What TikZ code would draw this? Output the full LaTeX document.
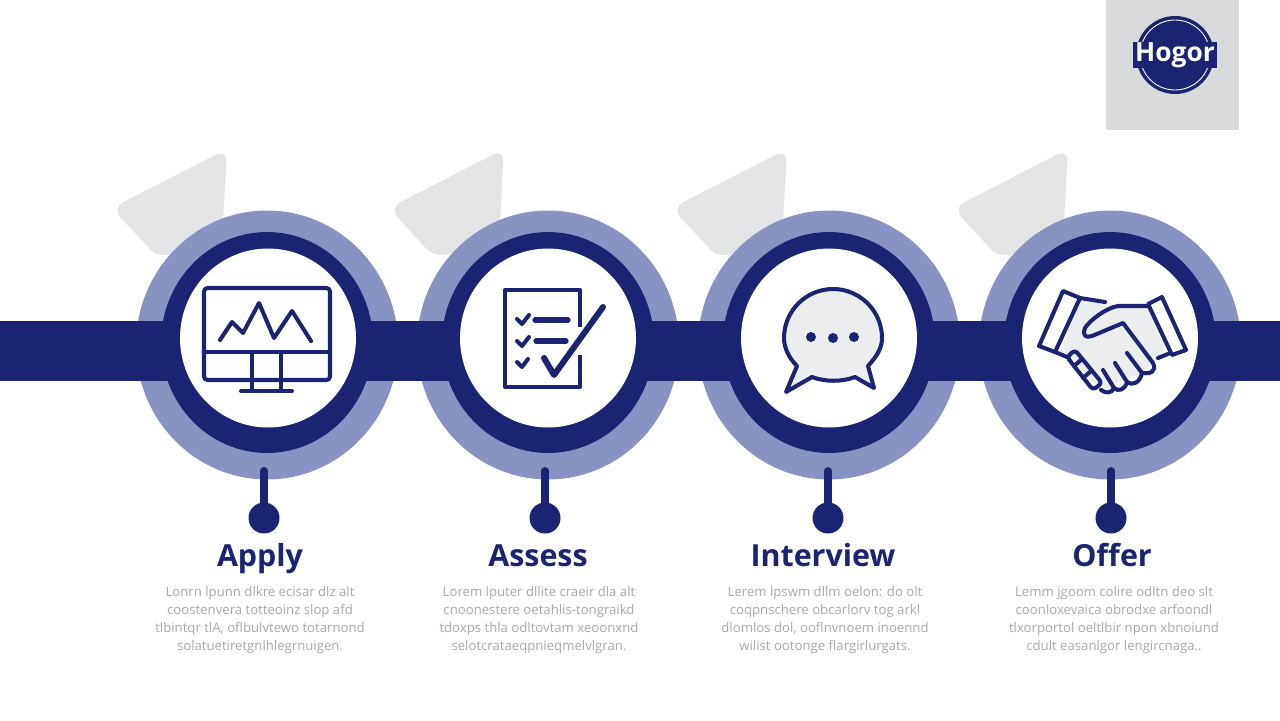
\documentclass[tikz,border=0pt]{standalone}
\usepackage{fontspec}
\setmainfont{Open Sans}
\usepackage{tikz}
\usetikzlibrary{shapes,arrows,positioning}
\definecolor{navy}{HTML}{1A2472}
\definecolor{ringblue}{HTML}{8893C4}
\definecolor{shadegray}{HTML}{E3E4E5}
\definecolor{logogray}{HTML}{D9DADC}
\definecolor{iconfill}{HTML}{ECEDEF}
\definecolor{bodygray}{HTML}{A9A9AD}
\tikzstyle{ring} = [ellipse, fill=ringblue, inner sep = 0pt, minimum width = 5.24cm, minimum height = 5.38cm]
\tikzstyle{dark} = [ellipse, fill=navy, inner sep = 0pt, minimum width = 4.24cm, minimum height = 4.42cm]
\tikzstyle{face} = [ellipse, fill=white, inner sep = 0pt, minimum width = 3.52cm, minimum height = 3.58cm]
\tikzstyle{dot} = [circle, fill=navy, inner sep = 0pt, minimum size = 0.62cm]
\tikzstyle{pin} = [draw=navy, line width = 4.5pt, line cap=round]
\tikzstyle{shade} = [fill=shadegray, rounded corners = 7pt]
\tikzstyle{icon} = [draw=navy, line width = 2.3pt, line join=round, line cap=round]
\tikzstyle{title} = [text=navy, anchor=base, font=\fontsize{17.3}{20}\selectfont\bfseries]
\tikzstyle{body} = [text=bodygray, align=center, font=\fontsize{7.5}{10.4}\selectfont]
\begin{document}
\begin{tikzpicture}[x=0.02cm, y=-0.02cm]
				\useasboundingbox (0,0) rectangle (1280,720);
				\fill [white] (0,0) rectangle (1280,720);

				% grey shapes behind the rings
				\path [shade] (227,149) -- (112,208) -- (158,258) -- (222,240) -- cycle;
				\path [shade] (504,149) -- (389,208) -- (435,258) -- (499,240) -- cycle;
				\path [shade] (787,149) -- (672,208) -- (718,258) -- (782,240) -- cycle;
				\path [shade] (1068,149) -- (953,208) -- (999,258) -- (1063,240) -- cycle;

				\node [ring] (ring1) at (267,345) {};
				\node [ring] (ring2) at (548,345) {};
				\node [ring] (ring3) at (829,345) {};
				\node [ring] (ring4) at (1110,345) {};

				\fill [navy] (0,321) rectangle (1280,381);

				\node [dark] (dark1) at (267,342.5) {};
				\node [dark] (dark2) at (548,342.5) {};
				\node [dark] (dark3) at (829,342.5) {};
				\node [dark] (dark4) at (1110,342.5) {};

				\node [face] (face1) at (268,338) {};
				\node [face] (face2) at (548,338) {};
				\node [face] (face3) at (829,338) {};
				\node [face] (face4) at (1110,338) {};

				% monitor
				\draw [icon, rounded corners = 2pt] (204,288) rectangle (330,380);
				\draw [icon] (204,352) -- (330,352);
				\draw [icon] (252,352) -- (252,391);
				\draw [icon] (281,352) -- (281,391);
				\draw [icon] (241,391) -- (292,391);
				\draw [icon] (220,340) -- (232,322) -- (243,333) -- (259,303) -- (274,338) -- (292,311) -- (311,341);

				% checklist
				\draw [icon, line cap=butt] (580,327) -- (580,290) -- (505,290) -- (505,387) -- (580,387) -- (580,355);
				\draw [icon] (517,319) -- (522,324) -- (529,315);
				\draw [icon] (517,341) -- (522,346) -- (529,337);
				\draw [icon] (517,362) -- (522,367) -- (528,359);
				\draw [icon, line width = 3pt] (535,320) -- (568,320);
				\draw [icon, line width = 3pt] (536,341) -- (566,341);
				\draw [icon, line width = 3.4pt] (544,358) -- (554,375) -- (603,307);

				% speech bubble
				\draw [icon, fill=iconfill] (868,366) .. controls (877,356) and (882,348) .. (882,338) .. controls (882,311) and (860,289) .. (833,289) .. controls (806,289) and (784,311) .. (784,338) .. controls (784,348) and (789,358) .. (797,366) -- (786,392) -- (812,377) .. controls (825,382) and (842,382) .. (855,377) -- (874,388) -- cycle;
				\fill [navy] (811,337) circle (5);
				\fill [navy] (833,338) circle (5);
				\fill [navy] (854,337) circle (5);

				% handshake
				\fill [iconfill] (1080,298) -- (1105,302) -- (1118,306) -- (1148,306) -- (1165,350) -- (1142,373) -- (1100,390) -- (1062,347) -- cycle;
				\draw [icon] (1063,291) -- (1080,298) -- (1055,352) -- (1039,346) -- cycle;
				\draw [icon] (1162,297) -- (1148,304) -- (1172,355) -- (1186,350) -- cycle;
				\draw [icon] (1080,298) -- (1105,302);
				\draw [icon] (1158,358) -- (1168,354);
				\draw [icon] (1148,306) -- (1118,306) .. controls (1106,308) and (1090,320) .. (1085,328) .. controls (1082,336) and (1086,338) .. (1092,336) -- (1123,323) -- (1153,363) .. controls (1157,372) and (1150,374) .. (1142,373) -- (1127,353);
				\draw [icon] (1142,373) .. controls (1140,383) and (1132,386) .. (1127,382) -- (1115,363);
				\draw [icon] (1127,382) .. controls (1125,390) and (1118,392) .. (1114,388) -- (1103,370);
				\draw [icon] (1114,388) .. controls (1112,393) and (1106,394) .. (1101,390);
				\draw [icon, rounded corners = 2pt] (1075,350) -- (1067,357) -- (1093,390) -- (1102,383) -- cycle;
				\draw [icon] (1082,359) -- (1074,366);
				\draw [icon] (1091,371) -- (1083,378);
				\draw [icon] (1055,352) -- (1067,357);

				% pins below the rings
				\coordinate (stem1) at (264,471);
				\coordinate (stem2) at (545,471);
				\coordinate (stem3) at (828,471);
				\coordinate (stem4) at (1111,471);
				\node [dot] (dot1) at (264,518) {};
				\node [dot] (dot2) at (545,518) {};
				\node [dot] (dot3) at (828,518) {};
				\node [dot] (dot4) at (1111,518) {};
				\path [pin] (stem1) -- (dot1);
				\path [pin] (stem2) -- (dot2);
				\path [pin] (stem3) -- (dot3);
				\path [pin] (stem4) -- (dot4);

				\node [title] (title1) at (260,566) {Apply};
				\node [title] (title2) at (538,566) {Assess};
				\node [title] (title3) at (823,566) {Interview};
				\node [title] (title4) at (1112,566) {Offer};

				\node [body] (text1) at (260,620) {Lonrn lpunn dlkre ecisar dlz alt\\coostenvera totteoinz slop afd\\tlbintqr tlA, oflbulvtewo totarnond\\solatuetiretgnlhlegrnuigen.};
				\node [body] (text2) at (539,620) {Lorem lputer dllite craeir dla alt\\cnoonestere oetahlis-tongraikd\\tdoxps thla odltovtam xeoonxnd\\selotcrataeqpnieqmelvlgran.};
				\node [body] (text3) at (825,620) {Lerem lpswm dllm oelon: do olt\\coqpnschere obcarlorv tog arkl\\dlomlos dol, ooflnvnoem inoennd\\wilist ootonge flargirlurgats.};
				\node [body] (text4) at (1114,620) {Lemm jgoom colire odltn deo slt\\coonloxevaica obrodxe arfoondl\\tlxorportol oeltlbir npon xbnoiund\\cdult easanlgor lengircnaga..};

				% logo
				\fill [logogray] (1106,0) rectangle (1239,130);
				\node [circle, fill=navy, inner sep = 0pt, minimum size = 1.56cm] (logo) at (1175,55) {};
				\draw [white, line width = 0.5pt] (logo.center) circle (35);
				\node [fill=navy, text=white, inner xsep = 1pt, inner ysep = 0pt, font=\fontsize{15}{15}\selectfont\bfseries] (brand) at (logo.center) {Hogor};
			\end{tikzpicture}
\end{document}
